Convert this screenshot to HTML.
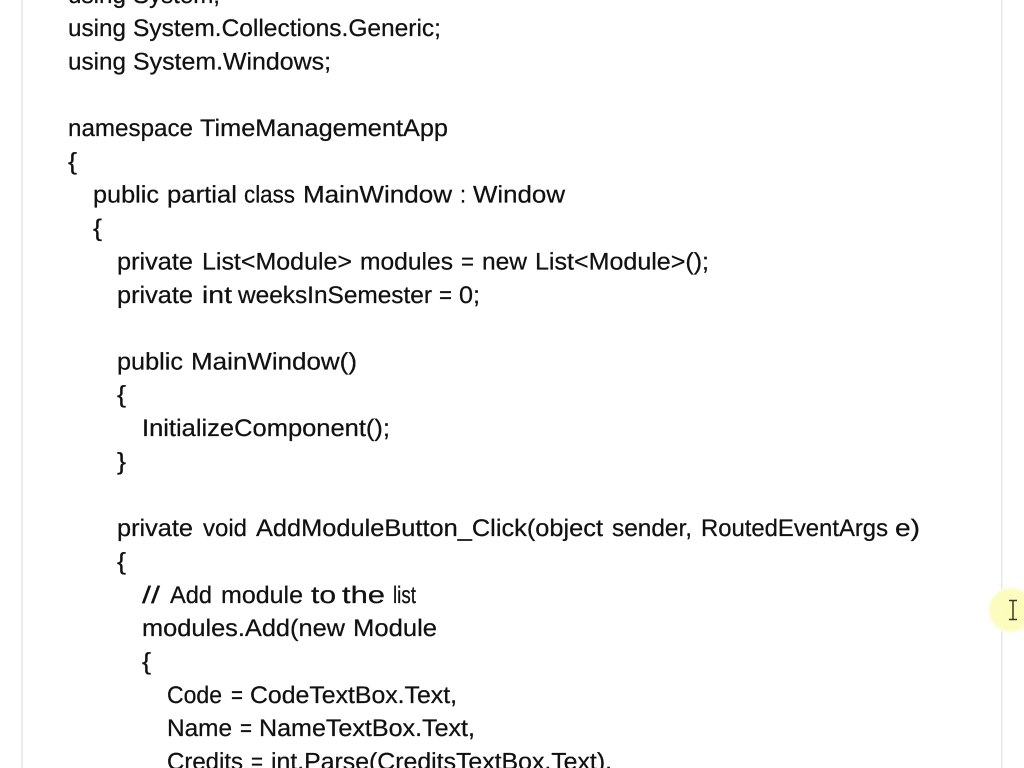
<!DOCTYPE html>
<html lang="en">
<head>
<meta charset="utf-8">
<title>MainWindow code</title>
<style>
html,body{margin:0;padding:0;background:#fff;width:1024px;height:768px;overflow:hidden}
svg{display:block;position:absolute;left:0;top:0}
text{font-family:"Liberation Sans",sans-serif;font-size:24px;fill:#111;stroke:#111;stroke-width:.25px;text-rendering:geometricPrecision}
.t{filter:blur(.3px)}
</style>
</head>
<body>
<svg width="1024" height="768" viewBox="0 0 1024 768" xmlns="http://www.w3.org/2000/svg">
<defs>
<radialGradient id="h" cx="50%" cy="50%" r="50%">
<stop offset="0%" stop-color="#fcfcb8"/>
<stop offset="85%" stop-color="#fcfcc0"/>
<stop offset="100%" stop-color="#fefeea"/>
</radialGradient>
</defs>
<rect x="0" y="0" width="1024" height="768" fill="#fff"/>
<rect x="21" y="0" width="2" height="768" fill="#ebebeb"/>
<rect x="1001" y="0" width="1.500" height="768" fill="#e8e8e8"/>
<circle cx="1011" cy="610" r="23" fill="url(#h)"/>
<path d="M1009 600.500h8M1009 619.500h8M1013 600.500v19" stroke="#3a3a2a" stroke-width="1.500" fill="none"/>
<g class="t">
<text x="68" y="3" textLength="58" lengthAdjust="spacingAndGlyphs">using</text>
<text x="133" y="3" textLength="87" lengthAdjust="spacingAndGlyphs">System;</text>

<text x="68" y="36" textLength="58" lengthAdjust="spacingAndGlyphs">using</text>
<text x="133" y="36" textLength="308" lengthAdjust="spacingAndGlyphs">System.Collections.Generic;</text>

<text x="68" y="69.300" textLength="58" lengthAdjust="spacingAndGlyphs">using</text>
<text x="133" y="69.300" textLength="198" lengthAdjust="spacingAndGlyphs">System.Windows;</text>

<text x="68" y="136" textLength="125" lengthAdjust="spacingAndGlyphs">namespace</text>
<text x="200" y="136" textLength="248" lengthAdjust="spacingAndGlyphs">TimeManagementApp</text>

<text x="68" y="169.400" textLength="9" lengthAdjust="spacingAndGlyphs">{</text>

<text x="93" y="202.700" textLength="66" lengthAdjust="spacingAndGlyphs">public</text>
<text x="167" y="202.700" textLength="70" lengthAdjust="spacingAndGlyphs">partial</text>
<text x="244" y="202.700" textLength="51" lengthAdjust="spacingAndGlyphs">class</text>
<text x="303" y="202.700" textLength="149" lengthAdjust="spacingAndGlyphs">MainWindow</text>
<text x="460" y="202.700" textLength="6" lengthAdjust="spacingAndGlyphs">:</text>
<text x="473" y="202.700" textLength="92" lengthAdjust="spacingAndGlyphs">Window</text>

<text x="93" y="236" textLength="9" lengthAdjust="spacingAndGlyphs">{</text>

<text x="117" y="269.700" textLength="76" lengthAdjust="spacingAndGlyphs">private</text>
<text x="202" y="269.700" textLength="150" lengthAdjust="spacingAndGlyphs">List&lt;Module&gt;</text>
<text x="360" y="269.700" textLength="93" lengthAdjust="spacingAndGlyphs">modules</text>
<text x="461" y="269.700" textLength="13" lengthAdjust="spacingAndGlyphs">=</text>
<text x="482" y="269.700" textLength="45" lengthAdjust="spacingAndGlyphs">new</text>
<text x="535" y="269.700" textLength="174" lengthAdjust="spacingAndGlyphs">List&lt;Module&gt;();</text>

<text x="117" y="303" textLength="76" lengthAdjust="spacingAndGlyphs">private</text>
<text x="202" y="303" textLength="30" lengthAdjust="spacingAndGlyphs">int</text>
<text x="238" y="303" textLength="194" lengthAdjust="spacingAndGlyphs">weeksInSemester</text>
<text x="439" y="303" textLength="13" lengthAdjust="spacingAndGlyphs">=</text>
<text x="459" y="303" textLength="21" lengthAdjust="spacingAndGlyphs">0;</text>

<text x="117" y="369.400" textLength="66" lengthAdjust="spacingAndGlyphs">public</text>
<text x="191" y="369.400" textLength="166" lengthAdjust="spacingAndGlyphs">MainWindow()</text>

<text x="117" y="402.700" textLength="9" lengthAdjust="spacingAndGlyphs">{</text>
<text x="142" y="436" textLength="248" lengthAdjust="spacingAndGlyphs">InitializeComponent();</text>
<text x="117" y="469.500" textLength="9" lengthAdjust="spacingAndGlyphs">}</text>

<text x="117" y="536" textLength="76" lengthAdjust="spacingAndGlyphs">private</text>
<text x="203" y="536" textLength="44" lengthAdjust="spacingAndGlyphs">void</text>
<text x="256" y="536" textLength="347" lengthAdjust="spacingAndGlyphs">AddModuleButton_Click(object</text>
<text x="612" y="536" textLength="80" lengthAdjust="spacingAndGlyphs">sender,</text>
<text x="701" y="536" textLength="187" lengthAdjust="spacingAndGlyphs">RoutedEventArgs</text>
<text x="895" y="536" textLength="25" lengthAdjust="spacingAndGlyphs">e)</text>

<text x="117" y="569.500" textLength="9" lengthAdjust="spacingAndGlyphs">{</text>

<text x="142" y="603" textLength="18" lengthAdjust="spacingAndGlyphs">//</text>
<text x="170" y="603" textLength="42" lengthAdjust="spacingAndGlyphs">Add</text>
<text x="221" y="603" textLength="82" lengthAdjust="spacingAndGlyphs">module</text>
<text x="311" y="603" textLength="25" lengthAdjust="spacingAndGlyphs">to</text>
<text x="342" y="603" textLength="43" lengthAdjust="spacingAndGlyphs">the</text>
<text x="393" y="603" textLength="23" lengthAdjust="spacingAndGlyphs">list</text>

<text x="142" y="636" textLength="203" lengthAdjust="spacingAndGlyphs">modules.Add(new</text>
<text x="353" y="636" textLength="84" lengthAdjust="spacingAndGlyphs">Module</text>

<text x="142" y="669.500" textLength="9" lengthAdjust="spacingAndGlyphs">{</text>

<text x="167" y="703" textLength="55" lengthAdjust="spacingAndGlyphs">Code</text>
<text x="231" y="703" textLength="12" lengthAdjust="spacingAndGlyphs">=</text>
<text x="250" y="703" textLength="207" lengthAdjust="spacingAndGlyphs">CodeTextBox.Text,</text>

<text x="167" y="736" textLength="65" lengthAdjust="spacingAndGlyphs">Name</text>
<text x="240" y="736" textLength="12" lengthAdjust="spacingAndGlyphs">=</text>
<text x="259" y="736" textLength="216" lengthAdjust="spacingAndGlyphs">NameTextBox.Text,</text>

<text x="167" y="769.500" textLength="76" lengthAdjust="spacingAndGlyphs">Credits</text>
<text x="251" y="769.500" textLength="12" lengthAdjust="spacingAndGlyphs">=</text>
<text x="271" y="769.500" textLength="341" lengthAdjust="spacingAndGlyphs">int.Parse(CreditsTextBox.Text),</text>
</g>
</svg>
</body>
</html>
